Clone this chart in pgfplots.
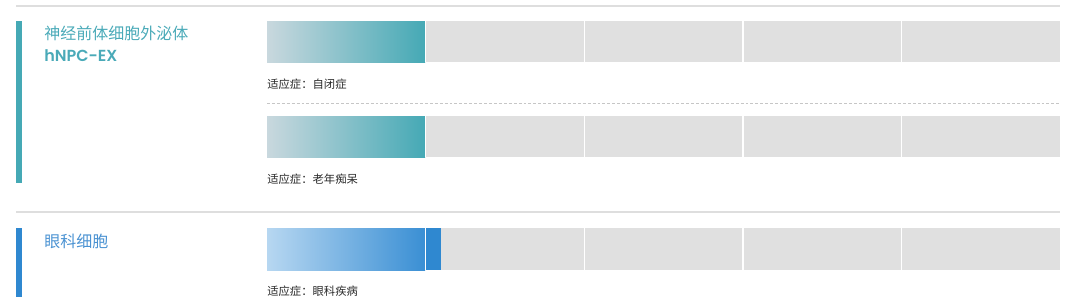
\documentclass[border=0pt]{standalone}
\usepackage{pgfplots}
\pgfplotsset{compat=1.18}
\usepackage{fontspec}
\setmainfont{Noto Sans CJK SC}
\newfontfamily\pop{Poppins}[BoldFont={Poppins SemiBold}]
\definecolor{tealA}{HTML}{C9D8DE}
\definecolor{tealB}{HTML}{45A9B5}
\definecolor{tealT}{HTML}{4AAAB8}
\definecolor{blueA}{HTML}{B7D7F1}
\definecolor{blueB}{HTML}{3A8FD4}
\definecolor{blueS}{HTML}{2F88D0}
\definecolor{blueT}{HTML}{4A92D2}
\definecolor{bgGray}{HTML}{E0E0E0}
\definecolor{lineGray}{HTML}{DEDEDE}
\definecolor{txt}{HTML}{2A2A2A}
\begin{document}
\begin{tikzpicture}
\begin{axis}[
  width=810pt, height=230.25pt, scale only axis,
  xmin=0, xmax=1080, ymin=0, ymax=307, y dir=reverse,
  axis lines=none, ticks=none, clip=false,
]
% full canvas (invisible) so the picture keeps the reference size
\addplot[draw=none] coordinates {(0,0) (1080,0) (1080,307) (0,307)} -- cycle;
% separator lines
\addplot[lineGray, line width=1.1pt] coordinates {(16,6) (1060,6)};
\addplot[lineGray, line width=1.1pt] coordinates {(16,212) (1060,212)};
\addplot[gray!45, line width=0.6pt, dash pattern=on 2.2pt off 1.5pt] coordinates {(267,103) (1060,103)};
% accent bars
\addplot[draw=none, fill=tealB] coordinates {(16,21) (22,21) (22,183) (16,183)} -- cycle;
\addplot[draw=none, fill=blueS] coordinates {(16,228) (22,228) (22,297) (16,297)} -- cycle;
% gray backgrounds
\addplot[draw=none, fill=bgGray] coordinates {(267,21) (1060,21) (1060,62) (267,62)} -- cycle;
\addplot[draw=none, fill=bgGray] coordinates {(267,116) (1060,116) (1060,157) (267,157)} -- cycle;
\addplot[draw=none, fill=bgGray] coordinates {(267,228) (1060,228) (1060,270) (267,270)} -- cycle;
% progress bars
\addplot[draw=none, left color=tealA, right color=tealB] coordinates {(267,21) (425,21) (425,62) (267,62)} -- cycle;
\addplot[draw=none, left color=tealA, right color=tealB] coordinates {(267,116) (425,116) (425,157) (267,157)} -- cycle;
\addplot[draw=none, left color=blueA, right color=blueB] coordinates {(267,228) (425,228) (425,270) (267,270)} -- cycle;
\addplot[draw=none, fill=blueS] coordinates {(425,228) (441,228) (441,270) (425,270)} -- cycle;
% stage separators
\addplot[white, line width=1.1pt] coordinates {(425.5,21) (425.5,62)};
\addplot[white, line width=1.1pt] coordinates {(584.5,21) (584.5,62)};
\addplot[white, line width=1.1pt] coordinates {(743,21) (743,62)};
\addplot[white, line width=1.1pt] coordinates {(901.5,21) (901.5,62)};
\addplot[white, line width=1.1pt] coordinates {(425.5,116) (425.5,157)};
\addplot[white, line width=1.1pt] coordinates {(584.5,116) (584.5,157)};
\addplot[white, line width=1.1pt] coordinates {(743,116) (743,157)};
\addplot[white, line width=1.1pt] coordinates {(901.5,116) (901.5,157)};
\addplot[white, line width=1.1pt] coordinates {(425.5,228) (425.5,270)};
\addplot[white, line width=1.1pt] coordinates {(584.5,228) (584.5,270)};
\addplot[white, line width=1.1pt] coordinates {(743,228) (743,270)};
\addplot[white, line width=1.1pt] coordinates {(901.5,228) (901.5,270)};
% texts
\node[anchor=west, inner sep=0pt, text=tealT, font=\fontsize{12}{14}\selectfont] at (axis cs:44,33) {神经前体细胞外泌体};
\node[anchor=west, inner sep=0pt, text=tealT, font=\fontsize{12}{14}\selectfont\pop\bfseries] at (axis cs:44,56) {hNPC-EX};
\node[anchor=west, inner sep=0pt, text=blueT, font=\fontsize{12}{14}\selectfont] at (axis cs:44,241) {眼科细胞};
\node[anchor=west, inner sep=0pt, text=txt, font=\fontsize{8.5}{10}\selectfont] at (axis cs:267,84) {适应症：自闭症};
\node[anchor=west, inner sep=0pt, text=txt, font=\fontsize{8.5}{10}\selectfont] at (axis cs:267,179) {适应症：老年痴呆};
\node[anchor=west, inner sep=0pt, text=txt, font=\fontsize{8.5}{10}\selectfont] at (axis cs:267,291) {适应症：眼科疾病};
\end{axis}
\end{tikzpicture}
\end{document}
